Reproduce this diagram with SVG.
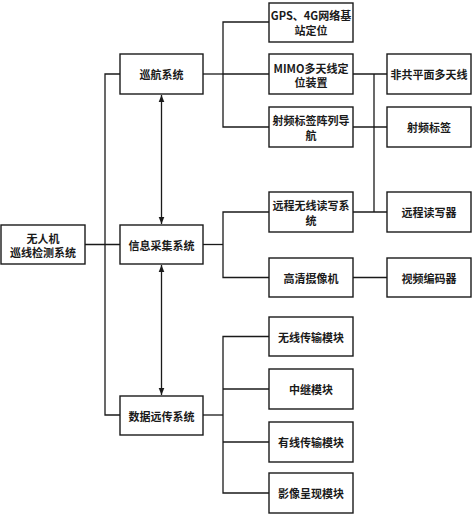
<svg xmlns="http://www.w3.org/2000/svg" width="474" height="517" viewBox="0 0 474 517">
<defs>
<style>
.b{fill:#fff;stroke:#1a1a1a;stroke-width:1.4}
.t{font-family:"Noto Sans CJK SC","Liberation Sans",sans-serif;font-size:11px;font-weight:bold;fill:#1a1a1a;text-anchor:middle;dominant-baseline:central}
.c{fill:none;stroke:#1a1a1a;stroke-width:1.3}
</style>
<marker id="ah" viewBox="0 0 10 10" refX="10" refY="5" markerWidth="7" markerHeight="7" orient="auto-start-reverse" markerUnits="userSpaceOnUse">
<path d="M0,1 L10,5 L0,9 Z" fill="#1a1a1a"/>
</marker>
</defs>
<rect width="474" height="517" fill="#fff"/>
<g id="connectors">
<path class="c" d="M85,244.5 H120"/>
<path class="c" d="M120,74 H105 V415 H120"/>
<path class="c" d="M161.5,95 V224" marker-start="url(#ah)" marker-end="url(#ah)"/>
<path class="c" d="M161.5,265 V395" marker-start="url(#ah)" marker-end="url(#ah)"/>
<path class="c" d="M203,74 H223"/>
<path class="c" d="M269,22 H223 V127 H269"/>
<path class="c" d="M223,74 H269"/>
<path class="c" d="M203,244.5 H223"/>
<path class="c" d="M269,212 H223 V277.5 H269"/>
<path class="c" d="M203,415 H223"/>
<path class="c" d="M269,336.5 H223 V493 H269"/>
<path class="c" d="M223,389 H269"/>
<path class="c" d="M223,442 H269"/>
<path class="c" d="M353,74 H387"/>
<path class="c" d="M353,127 H387"/>
<path class="c" d="M353,212 H387"/>
<path class="c" d="M374,74 V212"/>
<path class="c" d="M353,277.5 H387"/>
</g>
<g id="root"><rect class="b" x="1" y="225" width="84" height="39"/><text class="t" x="43" y="237.5">无人机</text><text class="t" x="43" y="252">巡线检测系统</text></g>
<g id="xunhang"><rect class="b" x="120" y="54" width="83" height="40"/><text class="t" x="161.5" y="74">巡航系统</text></g>
<g id="xinxi"><rect class="b" x="120" y="225" width="83" height="39"/><text class="t" x="161.5" y="244.5">信息采集系统</text></g>
<g id="shuju"><rect class="b" x="120" y="396" width="83" height="39"/><text class="t" x="161.5" y="415.5">数据远传系统</text></g>
<g id="gps"><rect class="b" x="269" y="3" width="84" height="39"/><text class="t" x="311" y="15">GPS、4G网络基</text><text class="t" x="311" y="29.5">站定位</text></g>
<g id="mimo"><rect class="b" x="269" y="54" width="84" height="40"/><text class="t" x="311" y="67.5">MIMO多天线定</text><text class="t" x="311" y="82">位装置</text></g>
<g id="shepin-nav"><rect class="b" x="269" y="107" width="84" height="40"/><text class="t" x="311" y="120">射频标签阵列导</text><text class="t" x="311" y="134.5">航</text></g>
<g id="yuancheng-wx"><rect class="b" x="269" y="192" width="84" height="40"/><text class="t" x="311" y="205">远程无线读写系</text><text class="t" x="311" y="219.5">统</text></g>
<g id="gaoqing"><rect class="b" x="269" y="258" width="84" height="39"/><text class="t" x="311" y="277.5">高清摄像机</text></g>
<g id="wuxian"><rect class="b" x="269" y="317" width="84" height="39"/><text class="t" x="311" y="336.5">无线传输模块</text></g>
<g id="zhongji"><rect class="b" x="269" y="369" width="84" height="40"/><text class="t" x="311" y="389">中继模块</text></g>
<g id="youxian"><rect class="b" x="269" y="422" width="84" height="40"/><text class="t" x="311" y="442">有线传输模块</text></g>
<g id="yingxiang"><rect class="b" x="269" y="473" width="84" height="40"/><text class="t" x="311" y="493">影像呈现模块</text></g>
<g id="feigong"><rect class="b" x="387" y="54" width="84" height="40"/><text class="t" x="429" y="74">非共平面多天线</text></g>
<g id="shepin"><rect class="b" x="387" y="107" width="84" height="40"/><text class="t" x="429" y="127">射频标签</text></g>
<g id="duxieqi"><rect class="b" x="387" y="192" width="84" height="40"/><text class="t" x="429" y="212">远程读写器</text></g>
<g id="bianma"><rect class="b" x="387" y="258" width="84" height="39"/><text class="t" x="429" y="277.5">视频编码器</text></g>
</svg>
